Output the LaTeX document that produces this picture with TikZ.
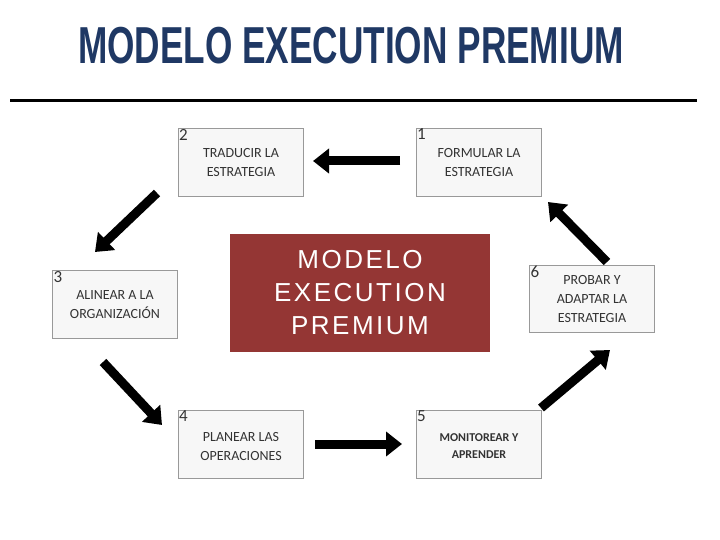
\documentclass[tikz,border=0pt]{standalone}
\usepackage{fontspec}
\setmainfont{Carlito}
\newfontfamily\titlef{Liberation Sans}
\usetikzlibrary{arrows.meta}
\definecolor{navy}{HTML}{1F3864}
\definecolor{brick}{HTML}{943634}
\begin{document}
\begin{tikzpicture}[x=1pt,y=-1pt,
 box/.style={draw=gray!80,fill=gray!6,minimum width=125pt,minimum height=68pt,inner sep=0pt},
 lbl/.style={font=\fontsize{14}{19}\selectfont,text=black!80,align=center},
 num/.style={font=\fontsize{17}{17}\selectfont,text=black!80,anchor=north west,inner sep=1pt},
 bar/.style={line width=9pt,draw=black,-{Triangle[width=24pt,length=16pt]}}]
\useasboundingbox (0,0) rectangle (720,540);
\node[text=navy] (title) at (351,46) {\scalebox{0.88}[1.3]{\titlef\bfseries\fontsize{40}{40}\selectfont MODELO EXECUTION PREMIUM}};
\coordinate (l1) at (10,101); \coordinate (l2) at (697,101);
\draw[line width=3pt] (l1) -- (l2);
\node[box] (b2) at (240.5,162) {}; \node[num] at (b2.north west) {2};
\node[lbl] at (241,163) {TRADUCIR LA\\ESTRATEGIA};
\node[box] (b1) at (478.5,162) {}; \node[num] at (b1.north west) {1};
\node[lbl] at (479,163) {FORMULAR LA\\ESTRATEGIA};
\node[box] (b3) at (115,304) {}; \node[num] at (b3.north west) {3};
\node[lbl] at (115,305) {ALINEAR A LA\\ORGANIZACIÓN};
\node[box,minimum height=67pt] (b6) at (592,298.5) {}; \node[num] at (b6.north west) {6};
\node[lbl] at (592,299) {PROBAR Y\\ADAPTAR LA\\ESTRATEGIA};
\node[box] (b4) at (240.5,444) {}; \node[num] at (b4.north west) {4};
\node[lbl] at (241,447) {PLANEAR LAS\\OPERACIONES};
\node[box] (b5) at (478.5,444) {}; \node[num] at (b5.north west) {5};
\node[lbl,font=\bfseries\fontsize{12}{17}\selectfont] at (479,446) {MONITOREAR Y\\APRENDER};
\node[fill=brick,minimum width=260pt,minimum height=118pt,text=white,align=center,
 font=\titlef\fontsize{26}{33}\selectfont] (c) at (360,293) {M\kern2.5pt O\kern2.5pt D\kern2.5pt E\kern2.5pt L\kern2.5pt O\\E\kern2.5pt X\kern2.5pt E\kern2.5pt C\kern2.5pt U\kern2.5pt T\kern2.5pt I\kern2.5pt O\kern2.5pt N\\P\kern2.5pt R\kern2.5pt E\kern2.5pt M\kern2.5pt I\kern2.5pt U\kern2.5pt M};
\coordinate (a1s) at (400,161); \coordinate (a1e) at (313,161);
\coordinate (a2s) at (157,193); \coordinate (a2e) at (95,252);
\coordinate (a3s) at (103,362); \coordinate (a3e) at (162,425);
\coordinate (a4s) at (315,444); \coordinate (a4e) at (402,444);
\coordinate (a5s) at (541,408); \coordinate (a5e) at (610,350);
\coordinate (a6s) at (607,262); \coordinate (a6e) at (548,202);
\foreach \s/\e in {a1s/a1e,a2s/a2e,a3s/a3e,a4s/a4e,a5s/a5e,a6s/a6e} \draw[bar] (\s) -- (\e);
\end{tikzpicture}
\end{document}
